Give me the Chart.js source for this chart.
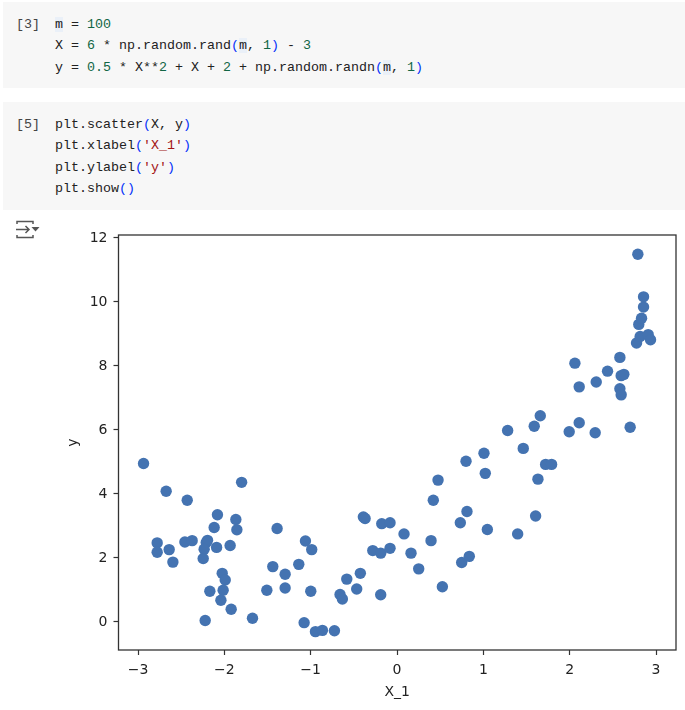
<!DOCTYPE html>
<html><head><meta charset="utf-8">
<script src="https://cdn.jsdelivr.net/npm/chart.js@4"></script>
<style>
html,body{margin:0;padding:0;background:#fff;width:685px;height:710px;overflow:hidden}
.cell{position:absolute;left:3px;width:682px;background:#f7f7f7}
.code{position:absolute;left:55px;font:13.33px/21.4px "Liberation Mono",monospace;color:#222;white-space:pre;margin:0}
.num{position:absolute;left:16px;font:13.33px/21.4px "Liberation Mono",monospace;color:#444;margin:0}
.n{color:#116644}.p{color:#0431fa}.s{color:#a31515}.h{background:#eaf0f8}
canvas{position:absolute;left:60px;top:225px}
svg{position:absolute;left:15px;top:219px}
</style></head><body>
<div class="cell" style="top:2px;height:86px"></div>
<div class="cell" style="top:102px;height:108px"></div>
<pre class="num" style="top:14px">[3]</pre>
<pre class="code" style="top:14px"><span class="h">m</span> = <span class="n">100</span>
X = <span class="n">6</span> * np.random.rand<span class="p">(</span><span class="h">m</span>, <span class="n">1</span><span class="p">)</span> - <span class="n">3</span>
y = <span class="n">0.5</span> * X**<span class="n">2</span> + X + <span class="n">2</span> + np.random.randn<span class="p">(</span><span class="h">m</span>, <span class="n">1</span><span class="p">)</span></pre>
<pre class="num" style="top:114px">[5]</pre>
<pre class="code" style="top:114px">plt.scatter<span class="p">(</span>X, y<span class="p">)</span>
plt.xlabel<span class="p">(</span><span class="s">'X_1'</span><span class="p">)</span>
plt.ylabel<span class="p">(</span><span class="s">'y'</span><span class="p">)</span>
plt.show<span class="p">()</span></pre>
<svg width="26" height="22" viewBox="0 0 26 22" fill="none" stroke="#555" stroke-width="1.5">
<path d="M2 5V2.500h16V5M2 16v2.500h16V16M1 10.500h13M10.500 7l3.500 3.500-3.500 3.500"/>
<path d="M16.500 8h8l-4 4.500z" fill="#555" stroke="none"/>
</svg>
<canvas id="c" width="625" height="485"></canvas>
<script>
const xValues=[-2.936,-2.674,-2.43,-1.80,-2.778,-2.778,-2.639,-2.596,-2.457,-2.373,-2.08,-2.118,-2.195,-2.21,-2.234,-2.245,-2.09,-1.933,-1.867,-1.855,-2.025,-1.99,-2.168,-2.014,-2.04,-1.921,-2.222,-1.674,-1.508,-1.439,-1.389,-1.296,-1.296,-1.138,-1.061,-0.988,-0.999,-1.076,-0.945,-0.864,-0.725,-0.66,-0.633,-0.582,-0.467,-0.425,-0.39,-0.37,-0.281,-0.189,-0.189,-0.177,-0.081,-0.081,0.081,0.162,0.251,0.394,0.525,0.42,0.475,0.733,0.81,0.749,0.837,1.046,0.799,1.022,1.007,1.397,1.605,1.632,1.721,1.79,1.462,1.281,1.589,1.659,1.994,2.11,2.295,2.70,2.06,2.11,2.307,2.438,2.581,2.596,2.627,2.581,2.596,2.774,2.816,2.909,2.936,2.80,2.832,2.855,2.855,2.789];
const yValues=[4.94,4.07,3.79,4.35,2.46,2.17,2.25,1.86,2.49,2.53,3.34,2.94,2.54,2.47,2.26,1.97,2.32,2.38,3.19,2.87,1.51,1.30,0.95,0.98,0.67,0.39,0.04,0.11,0.98,1.72,2.91,1.48,1.05,1.79,2.52,2.25,0.95,-0.03,-0.31,-0.27,-0.28,0.85,0.71,1.33,1.02,1.51,3.27,3.22,2.22,2.14,0.84,3.06,3.09,2.29,2.74,2.14,1.65,2.53,1.09,3.79,4.42,3.09,3.44,1.85,2.04,2.88,5.01,4.63,5.26,2.74,3.30,4.45,4.91,4.91,5.41,5.97,6.10,6.43,5.93,6.21,5.90,6.07,8.07,7.33,7.48,7.82,8.25,7.68,7.72,7.27,7.08,8.70,8.90,8.96,8.80,9.28,9.47,9.82,10.14,11.47];
const xLabel='X_1';
const yLabel='y';
const xRange=[-3.226,3.231];
const yRange=[-0.883,12.07];
const points=xValues.map((x,i)=>({x,y:yValues[i]}));
const ink='#333';
const font={family:'"DejaVu Sans"',size:14};
const fmt=v=>String(v).replace('-','\u2212');
const frame={id:'frame',afterDatasetsDraw(ch){const a=ch.chartArea,g=ch.ctx;g.save();g.strokeStyle=ink;g.lineWidth=1.3;g.strokeRect(a.left,a.top,a.width,a.height);g.restore();}};
const noPad=s=>{s.paddingLeft=s.paddingRight=s.paddingTop=s.paddingBottom=0};
new Chart(document.getElementById('c'),{
 type:'scatter',
 data:{datasets:[{data:points,backgroundColor:'#4473b1',borderColor:'#4473b1',borderWidth:0,pointRadius:5.7,pointHoverRadius:5.7}]},
 plugins:[frame],
 options:{responsive:false,animation:false,devicePixelRatio:1,
  layout:{padding:{left:5,right:9,top:10,bottom:9}},
  plugins:{legend:{display:false},tooltip:{enabled:false}},
  scales:{
   x:{type:'linear',min:xRange[0],max:xRange[1],
    afterFit(s){s.height=51;noPad(s)},
    border:{display:false},
    grid:{drawOnChartArea:false,drawTicks:true,tickLength:5,tickColor:ink,tickWidth:1.2},
    ticks:{stepSize:1,includeBounds:false,autoSkip:false,maxRotation:0,color:'#222',font,padding:7,callback:fmt},
    title:{display:true,text:xLabel,color:'#222',font,padding:{top:2,bottom:0}}},
   y:{type:'linear',min:yRange[0],max:yRange[1],
    afterFit(s){s.width=53.5;noPad(s)},
    border:{display:false},
    grid:{drawOnChartArea:false,drawTicks:true,tickLength:5,tickColor:ink,tickWidth:1.2},
    ticks:{stepSize:2,includeBounds:false,autoSkip:false,color:'#222',font,padding:6,labelOffset:1,callback:fmt},
    title:{display:true,text:yLabel,color:'#222',font,padding:{top:0,bottom:0}}}
  }}
});
</script>
</body></html>
